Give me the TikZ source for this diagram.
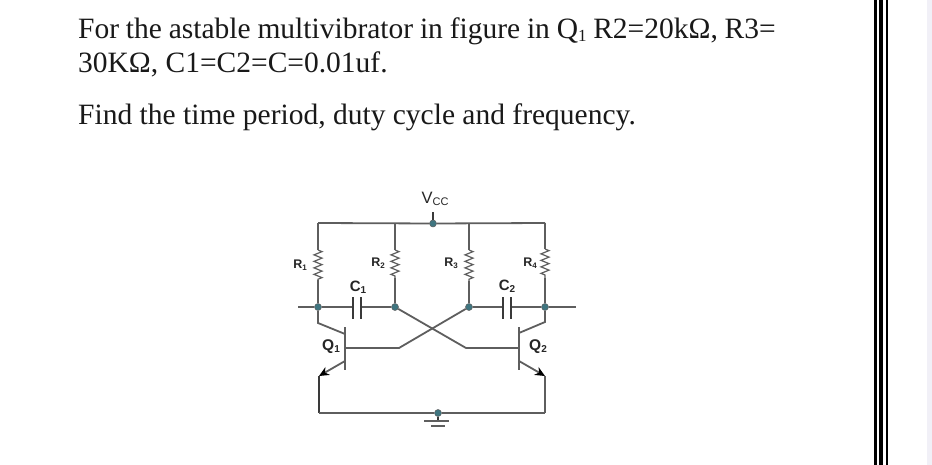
\documentclass[tikz,border=0pt]{standalone}
\usepackage{fontspec}
\setmainfont{Liberation Serif}
\newfontfamily\lblfont{Liberation Sans}
\usetikzlibrary{decorations.pathmorphing,arrows.meta}
\definecolor{wire}{HTML}{5E5E5E}
\definecolor{wiredark}{HTML}{3A3A3A}
\definecolor{dotc}{HTML}{3F7580}
\definecolor{sidebar}{HTML}{F1F0F7}
\newcommand{\tinysub}[1]{\raisebox{-3pt}{\fontsize{17}{18}\selectfont #1}}
\newcommand{\lblsub}[1]{\raisebox{-1.5pt}{\fontsize{8}{8}\selectfont #1}}
\newcommand{\bigsub}[1]{\raisebox{-2pt}{\fontsize{10}{10}\selectfont #1}}
\tikzset{
  x=1pt,y=-1pt,
  wireline/.style={draw=wire,line width=1.8pt},
  darkline/.style={draw=wiredark,line width=1.6pt},
  junction/.style={circle,fill=dotc,draw=wire,line width=0.5pt,inner sep=0pt,minimum size=7pt},
  resistor/.style={draw=wire,line width=1.2pt,decoration={zigzag,segment length=6.5pt,amplitude=4pt},decorate},
  plate/.style={draw=wiredark,line width=1.8pt},
  question/.style={anchor=base west,inner sep=0pt,font=\fontsize{29.5}{32}\selectfont,text=black!90},
  partlabel/.style={inner sep=0pt,font=\lblfont\bfseries\fontsize{12.5}{13}\selectfont,text=black!85},
  caplabel/.style={inner sep=0pt,font=\lblfont\bfseries\fontsize{15}{16}\selectfont,text=black!85},
  translabel/.style={inner sep=0pt,font=\lblfont\bfseries\fontsize{15.5}{16}\selectfont,text=black!85},
  vcclabel/.style={inner sep=0pt,font=\lblfont\fontsize{16.5}{17}\selectfont,text=black!85},
  barline/.style={fill=black,draw=none}
}
\begin{document}
\begin{tikzpicture}
\useasboundingbox (0,0) rectangle (932,465);
\fill[white] (0,0) rectangle (932,465);
\fill[sidebar] (927,0) rectangle (932,465);
\fill[barline] (874,0) rectangle (877,465);
\fill[barline] (879,0) rectangle (883,465);
\fill[barline] (886,0) rectangle (888,465);

\node[question] (l1) at (78,38.5) {\spaceskip=6.8pt For the astable multivibrator in figure in Q\tinysub{1} R2=20kΩ, R3=};
\node[question] (l2) at (78,73) {30KΩ, C1=C2=C=0.01uf.};
\node[question] (l3) at (78,125) {Find the time period, duty cycle and frequency.};

% rail corners and junctions
\coordinate (tl) at (318,223);
\coordinate (t2) at (395,223);
\node[junction] (vcc) at (433,223.5) {};
\coordinate (vt) at (433,212);
\coordinate (t3) at (469,223);
\coordinate (tr) at (545,223);
\node[junction] (n1) at (318,307) {};
\node[junction] (n2) at (395,307) {};
\node[junction] (n3) at (469,307) {};
\node[junction] (n4) at (545,307) {};
\node[junction] (gnd) at (438,413) {};
\coordinate (stubl) at (298,307);
\coordinate (stubr) at (576,307);
\coordinate (c1a) at (353,307);
\coordinate (c1b) at (361,307);
\coordinate (c2a) at (503,307);
\coordinate (c2b) at (511,307);

% top rail
\draw[wireline] (tl) -- (vcc) -- (tr);
\draw[darkline] (vcc) -- (vt);

% resistors
\foreach \nm/\x/\ya/\yb/\bot in {ra/318/250/280/n1,rb/395/250/278/n2,rc/469/250/281/n3,rd/545/249/278/n4}{
  \coordinate (\nm t) at (\x,\ya);
  \coordinate (\nm b) at (\x,\yb);
  \draw[wireline,line width=1.5pt] (\x,223) -- (\nm t);
  \draw[resistor] (\nm t) -- (\nm b);
  \draw[wireline,line width=1.5pt] (\nm b) -- (\bot);
}

% coupling row
\draw[wireline] (stubl) -- (n1) -- (c1a);
\draw[wireline] (c1b) -- (n2);
\draw[wireline] (n3) -- (c2a);
\draw[wireline] (c2b) -- (n4) -- (stubr);
\draw[plate] (353,297) -- (353,319);
\draw[plate] (361,297) -- (361,319);
\draw[plate] (503,297) -- (503,319);
\draw[plate] (511,297) -- (511,319);

% Q1
\coordinate (b1top) at (345,327);
\coordinate (b1bot) at (345,370);
\coordinate (b1) at (345,348);
\coordinate (k1) at (399,348);
\coordinate (c1) at (345,334);
\coordinate (e1) at (345,361);
\coordinate (elbow1) at (318,323);
\coordinate (ee1) at (319,376);
\draw[wireline,line width=1.6pt] (b1top) -- (b1bot);
\draw[wireline] (b1) -- (k1) -- (n3);
\draw[wireline] (n1) -- (elbow1) -- (c1);
\draw[wireline,-{Stealth[length=10pt,width=9pt,color=black]}] (e1) -- (ee1);
\coordinate (bl) at (319,413);
\coordinate (br) at (545,413);

% Q2
\coordinate (b2top) at (519,327);
\coordinate (b2bot) at (519,370);
\coordinate (b2) at (519,348);
\coordinate (k2) at (466,348);
\coordinate (c2) at (519,333);
\coordinate (e2) at (519,361);
\coordinate (elbow2) at (545,322);
\coordinate (ee2) at (545,376);
\draw[wireline,line width=1.6pt] (b2top) -- (b2bot);
\draw[wireline] (b2) -- (k2) -- (n2);
\draw[wireline] (n4) -- (elbow2) -- (c2);
\draw[wireline,-{Stealth[length=10pt,width=9pt,color=black]}] (e2) -- (ee2);

% bottom rail
\draw[darkline] (ee1) -- (bl);
\draw[wireline] (bl) -- (gnd) -- (br);
\draw[wireline] (br) -- (ee2);

% ground
\coordinate (g0) at (438,421);
\coordinate (g1l) at (424,421);
\coordinate (g1r) at (449,421);
\coordinate (g2l) at (431,426);
\coordinate (g2r) at (445,426);
\draw[darkline] (gnd) -- (g0);
\draw[wireline,line width=1.3pt] (g1l) -- (g1r);
\draw[wireline,line width=1.3pt] (g2l) -- (g2r);

% labels
\node[vcclabel] (lv) at (435,199) {V\raisebox{-1.5pt}{\fontsize{11}{11}\selectfont CC}};
\node[partlabel] (lr1) at (300,265) {R\lblsub{1}};
\node[partlabel] (lr2) at (378,263) {R\lblsub{2}};
\node[partlabel] (lr3) at (451,263) {R\lblsub{3}};
\node[partlabel] (lr4) at (530,263) {R\lblsub{4}};
\node[caplabel] (lc1) at (358,287) {C\bigsub{1}};
\node[caplabel] (lc2) at (507,286) {C\bigsub{2}};
\node[translabel] (lq1) at (331,347) {Q\bigsub{1}};
\node[translabel] (lq2) at (538,347) {Q\bigsub{2}};
\end{tikzpicture}
\end{document}
